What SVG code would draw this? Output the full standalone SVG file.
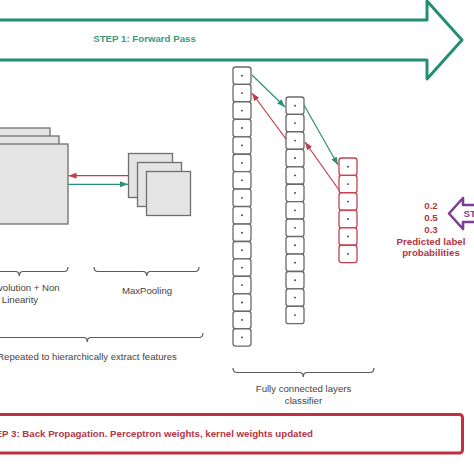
<svg xmlns="http://www.w3.org/2000/svg" width="474" height="474" viewBox="0 0 474 474">
<style>
.cell{fill:#fff;stroke:#6a6a6a;stroke-width:1.3}
.rcell{fill:#fff;stroke:#c8404f;stroke-width:1.3}
.dot{fill:#333}
.fmap{fill:#e4e4e4;stroke:#6e6e6e;stroke-width:1.3}
.brace{fill:none;stroke:#5a5a5a;stroke-width:1.2}
.lbl{font-family:"Liberation Sans",Arial,sans-serif;font-size:9.6px;fill:#444;text-anchor:middle}
.g{stroke:#2a9075;stroke-width:1.2;fill:none}
.r{stroke:#c03a4a;stroke-width:1.2;fill:none}
</style>
<defs>
<marker id="ag" markerUnits="userSpaceOnUse" markerWidth="9" markerHeight="7" refX="8" refY="3" orient="auto"><path d="M0,0 L8,3 L0,6 z" fill="#2a9075"/></marker>
<marker id="ar" markerUnits="userSpaceOnUse" markerWidth="9" markerHeight="7" refX="8" refY="3" orient="auto"><path d="M0,0 L8,3 L0,6 z" fill="#c03a4a"/></marker>
</defs>
<rect width="474" height="474" fill="#fff"/>

<g id="step1">
<path d="M-10,20 L427,20 L427,1 L462,40 L427,79 L427,60 L-10,60" fill="none" stroke="#248d72" stroke-width="3" stroke-linejoin="round"/>
<text x="144.5" y="41.5" font-family="'Liberation Sans',Arial,sans-serif" font-size="9.7" font-weight="bold" fill="#3a9a80" text-anchor="middle">STEP 1: Forward Pass</text>
</g>

<g id="conv">
<rect class="fmap" x="-5" y="128" width="55" height="60"/>
<rect class="fmap" x="-5" y="136" width="64" height="70"/>
<rect class="fmap" x="-5" y="144" width="73" height="80"/>
</g>

<g id="pool">
<rect class="fmap" x="128.5" y="153.5" width="44" height="44"/>
<rect class="fmap" x="137.5" y="162.5" width="44" height="44"/>
<rect class="fmap" x="146.5" y="171.5" width="44" height="44"/>
</g>

<g id="fc1">
<rect class="cell" x="233" y="67" width="18" height="17.3" rx="2.5"/><circle class="dot" cx="242" cy="75.7" r="0.9"/>
<rect class="cell" x="233" y="84.45" width="18" height="17.3" rx="2.5"/><circle class="dot" cx="242" cy="93.1" r="0.9"/>
<rect class="cell" x="233" y="101.9" width="18" height="17.3" rx="2.5"/><circle class="dot" cx="242" cy="110.55" r="0.9"/>
<rect class="cell" x="233" y="119.35" width="18" height="17.3" rx="2.5"/><circle class="dot" cx="242" cy="128" r="0.9"/>
<rect class="cell" x="233" y="136.8" width="18" height="17.3" rx="2.5"/><circle class="dot" cx="242" cy="145.45" r="0.9"/>
<rect class="cell" x="233" y="154.25" width="18" height="17.3" rx="2.5"/><circle class="dot" cx="242" cy="162.9" r="0.9"/>
<rect class="cell" x="233" y="171.7" width="18" height="17.3" rx="2.5"/><circle class="dot" cx="242" cy="180.35" r="0.9"/>
<rect class="cell" x="233" y="189.15" width="18" height="17.3" rx="2.5"/><circle class="dot" cx="242" cy="197.8" r="0.9"/>
<rect class="cell" x="233" y="206.6" width="18" height="17.3" rx="2.5"/><circle class="dot" cx="242" cy="215.25" r="0.9"/>
<rect class="cell" x="233" y="224.05" width="18" height="17.3" rx="2.5"/><circle class="dot" cx="242" cy="232.7" r="0.9"/>
<rect class="cell" x="233" y="241.5" width="18" height="17.3" rx="2.5"/><circle class="dot" cx="242" cy="250.15" r="0.9"/>
<rect class="cell" x="233" y="258.95" width="18" height="17.3" rx="2.5"/><circle class="dot" cx="242" cy="267.6" r="0.9"/>
<rect class="cell" x="233" y="276.4" width="18" height="17.3" rx="2.5"/><circle class="dot" cx="242" cy="285.05" r="0.9"/>
<rect class="cell" x="233" y="293.85" width="18" height="17.3" rx="2.5"/><circle class="dot" cx="242" cy="302.5" r="0.9"/>
<rect class="cell" x="233" y="311.3" width="18" height="17.3" rx="2.5"/><circle class="dot" cx="242" cy="319.95" r="0.9"/>
<rect class="cell" x="233" y="328.75" width="18" height="17.3" rx="2.5"/><circle class="dot" cx="242" cy="337.4" r="0.9"/>
</g>

<g id="fc2">
<rect class="cell" x="286" y="97" width="18" height="17.3" rx="2.5"/><circle class="dot" cx="295" cy="105.65" r="0.9"/>
<rect class="cell" x="286" y="114.45" width="18" height="17.3" rx="2.5"/><circle class="dot" cx="295" cy="123.1" r="0.9"/>
<rect class="cell" x="286" y="131.9" width="18" height="17.3" rx="2.5"/><circle class="dot" cx="295" cy="140.55" r="0.9"/>
<rect class="cell" x="286" y="149.35" width="18" height="17.3" rx="2.5"/><circle class="dot" cx="295" cy="158" r="0.9"/>
<rect class="cell" x="286" y="166.8" width="18" height="17.3" rx="2.5"/><circle class="dot" cx="295" cy="175.45" r="0.9"/>
<rect class="cell" x="286" y="184.25" width="18" height="17.3" rx="2.5"/><circle class="dot" cx="295" cy="192.9" r="0.9"/>
<rect class="cell" x="286" y="201.7" width="18" height="17.3" rx="2.5"/><circle class="dot" cx="295" cy="210.35" r="0.9"/>
<rect class="cell" x="286" y="219.15" width="18" height="17.3" rx="2.5"/><circle class="dot" cx="295" cy="227.8" r="0.9"/>
<rect class="cell" x="286" y="236.6" width="18" height="17.3" rx="2.5"/><circle class="dot" cx="295" cy="245.25" r="0.9"/>
<rect class="cell" x="286" y="254.05" width="18" height="17.3" rx="2.5"/><circle class="dot" cx="295" cy="262.7" r="0.9"/>
<rect class="cell" x="286" y="271.5" width="18" height="17.3" rx="2.5"/><circle class="dot" cx="295" cy="280.15" r="0.9"/>
<rect class="cell" x="286" y="288.95" width="18" height="17.3" rx="2.5"/><circle class="dot" cx="295" cy="297.6" r="0.9"/>
<rect class="cell" x="286" y="306.4" width="18" height="17.3" rx="2.5"/><circle class="dot" cx="295" cy="315.05" r="0.9"/>
</g>

<g id="fc3">
<rect class="rcell" x="339" y="158" width="18" height="17.3" rx="2.5"/><circle class="dot" cx="348" cy="166.65" r="0.9"/>
<rect class="rcell" x="339" y="175.45" width="18" height="17.3" rx="2.5"/><circle class="dot" cx="348" cy="184.1" r="0.9"/>
<rect class="rcell" x="339" y="192.9" width="18" height="17.3" rx="2.5"/><circle class="dot" cx="348" cy="201.55" r="0.9"/>
<rect class="rcell" x="339" y="210.35" width="18" height="17.3" rx="2.5"/><circle class="dot" cx="348" cy="219" r="0.9"/>
<rect class="rcell" x="339" y="227.8" width="18" height="17.3" rx="2.5"/><circle class="dot" cx="348" cy="236.45" r="0.9"/>
<rect class="rcell" x="339" y="245.25" width="18" height="17.3" rx="2.5"/><circle class="dot" cx="348" cy="253.9" r="0.9"/>
</g>

<g id="connectors">
<line class="r" x1="128" y1="175.7" x2="68.5" y2="175.7" marker-end="url(#ar)"/>
<line class="g" x1="68" y1="184.3" x2="128" y2="184.3" marker-end="url(#ag)"/>
<line class="g" x1="252" y1="75" x2="285" y2="107" marker-end="url(#ag)"/>
<line class="r" x1="286" y1="139" x2="252" y2="93" marker-end="url(#ar)"/>
<line class="g" x1="304" y1="105" x2="338" y2="165" marker-end="url(#ag)"/>
<line class="r" x1="339" y1="190" x2="305" y2="142" marker-end="url(#ar)"/>
</g>

<g id="braces">
<path class="brace" d="M-30,267 q0,4.5 4,4.5 L15.5,271.5 q3.8,0 3.8,4.5 q0,-4.5 3.8,-4.5 L64,271.5 q4,0 4,-4.5"/>
<path class="brace" d="M94,267 q0,4.5 4,4.5 L143,271.5 q3.8,0 3.8,4.5 q0,-4.5 3.8,-4.5 L195,271.5 q4,0 4,-4.5"/>
<path class="brace" d="M-30,333 q0,4.5 4,4.5 L83.5,337.5 q3.8,0 3.8,4.5 q0,-4.5 3.8,-4.5 L199,337.5 q4,0 4,-4.5"/>
<path class="brace" d="M233,368 q0,4.5 4,4.5 L299.5,372.5 q3.8,0 3.8,4.5 q0,-4.5 3.8,-4.5 L370,372.5 q4,0 4,-4.5"/>
</g>

<g id="labels">
<text class="lbl" x="20" y="290.5">Convolution + Non</text>
<text class="lbl" x="20" y="302.5">Linearity</text>
<text class="lbl" x="147" y="294.2">MaxPooling</text>
<text class="lbl" x="87" y="359.5">Repeated to hierarchically extract features</text>
<text class="lbl" x="303.5" y="391.5">Fully connected layers</text>
<text class="lbl" x="303.5" y="403.5">classifier</text>
</g>

<g id="output">
<g font-family="'Liberation Sans',Arial,sans-serif" font-size="9.7" font-weight="bold" fill="#b23545" text-anchor="middle">
<text x="431" y="209">0.2</text>
<text x="431" y="221">0.5</text>
<text x="431" y="233">0.3</text>
<text x="431" y="244.5">Predicted label</text>
<text x="431" y="256">probabilities</text>
</g>
</g>

<g id="step2">
<path d="M480,205 L463,205 L463,198 L449,213.5 L463,229 L463,222 L480,222" fill="none" stroke="#7a3f8e" stroke-width="2.6" stroke-linejoin="round"/>
<text x="463.5" y="217" font-family="'Liberation Sans',Arial,sans-serif" font-size="9.7" font-weight="bold" fill="#7a3f8e">STEP 2</text>
</g>

<g id="step3">
<rect x="-10" y="414.5" width="472.5" height="38.5" rx="3" fill="none" stroke="#c0303f" stroke-width="3"/>
<text x="313" y="437" font-family="'Liberation Sans',Arial,sans-serif" font-size="9.7" font-weight="bold" fill="#b23545" text-anchor="end">STEP 3: Back Propagation. Perceptron weights, kernel weights updated</text>
</g>
</svg>
